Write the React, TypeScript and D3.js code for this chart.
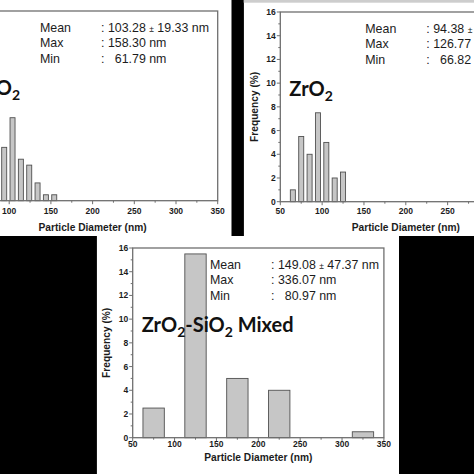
import React from 'react';
import * as d3 from 'd3';

// ---- data ----
const X_TICKS = [50, 100, 150, 200, 250, 300, 350];
const X_MINOR = [75, 125, 175, 225, 275, 325];
const Y_TICKS = [0, 2, 4, 6, 8, 10, 12, 14, 16];
const Y_MINOR = [1, 3, 5, 7, 9, 11, 13, 15];

// top-left panel (cropped) – particle size bins (nm) and frequency (%)
const TL_BINS = [94, 104, 114, 124, 134, 144, 154];
const TL_FREQ = [4.5, 7, 3.5, 3, 1.5, 0.5, 0.5];
// top-right panel: ZrO2
const TR_BINS = [65, 75, 85, 95, 105, 115, 125];
const TR_FREQ = [1, 5.5, 4, 7.5, 5, 2, 2.5];
// bottom panel: ZrO2-SiO2 Mixed
const MX_BINS = [75, 125, 175, 225, 275, 325];
const MX_FREQ = [2.5, 15.5, 5, 4, 0, 0.5];

const STAT_NAMES = ['Mean', 'Max', 'Min'];
const TL_STATS = ['103.28', '158.30', '61.79'];
const TL_SD = '19.33';
const TR_STATS = ['94.38', '126.77', '66.82'];
const TR_SD = '';
const MX_STATS = ['149.08', '336.07', '80.97'];
const MX_SD = '47.37';

const AX_FONT = '"Liberation Sans", Arial, sans-serif';
const TITLE_FONT = 'Lato, "Open Sans", sans-serif';
const FRAME = '#6f6f6f';
const BAR_FILL = '#c6c6c6';
const BAR_STROKE = '#505050';
const TXT = '#1c1c1c';

type PanelProps = {
  id: string;
  clip: { x: number; y: number; w: number; h: number };
  plot: { l: number; r: number; t: number; b: number };
  bins: number[];
  freq: number[];
  barUnits: number;
  stats: string[];
  sd: string;
  statX: number;
  title: { text: string; sub?: boolean }[];
  tickDy: number;
  xLabelY: number;
  yLabelGap: number;
};

function Panel(p: PanelProps) {
  const x = d3.scaleLinear().domain([50, 350]).range([p.plot.l, p.plot.r]);
  const y = d3.scaleLinear().domain([0, 16]).range([p.plot.b, p.plot.t]);
  const bw = x(50 + p.barUnits) - x(50);
  const statY0 = p.plot.t + 21;
  const rowH = 15.3;
  const colonX = p.statX + 61;
  return (
    <g clipPath={`url(#${p.id})`}>
      <defs>
        <clipPath id={p.id}>
          <rect x={p.clip.x} y={p.clip.y} width={p.clip.w} height={p.clip.h} />
        </clipPath>
      </defs>
      <rect x={p.clip.x} y={p.clip.y} width={p.clip.w} height={p.clip.h} fill="#fff" />
      {/* bars */}
      {p.bins.map((b, i) =>
        p.freq[i] > 0 ? (
          <rect
            key={i}
            x={x(b) - bw / 2}
            y={y(p.freq[i])}
            width={bw}
            height={y(0) - y(p.freq[i])}
            fill={BAR_FILL}
            stroke={BAR_STROKE}
            strokeWidth={0.9}
          />
        ) : null
      )}
      {/* frame */}
      <rect
        x={p.plot.l}
        y={p.plot.t}
        width={p.plot.r - p.plot.l}
        height={p.plot.b - p.plot.t}
        fill="none"
        stroke={FRAME}
        strokeWidth={1.3}
      />
      {/* x ticks */}
      {X_TICKS.map((t) => (
        <g key={'xt' + t}>
          <line x1={x(t)} x2={x(t)} y1={y(0)} y2={y(0) + 3.5} stroke={FRAME} strokeWidth={1} />
          <text
            x={x(t)}
            y={y(0) + p.tickDy}
            textAnchor="middle"
            fontFamily={AX_FONT}
            fontWeight="bold"
            fontSize={8.5}
            fill={TXT}
          >
            {t}
          </text>
        </g>
      ))}
      {X_MINOR.map((t) => (
        <line key={'xm' + t} x1={x(t)} x2={x(t)} y1={y(0)} y2={y(0) + 2} stroke={FRAME} strokeWidth={1} />
      ))}
      {/* y ticks */}
      {Y_TICKS.map((t) => (
        <g key={'yt' + t}>
          <line x1={x(50) - 3.5} x2={x(50)} y1={y(t)} y2={y(t)} stroke={FRAME} strokeWidth={1} />
          <text
            x={x(50) - 4.5}
            y={y(t) + 3}
            textAnchor="end"
            fontFamily={AX_FONT}
            fontWeight="bold"
            fontSize={8.5}
            fill={TXT}
          >
            {t}
          </text>
        </g>
      ))}
      {Y_MINOR.map((t) => (
        <line key={'ym' + t} x1={x(50) - 2} x2={x(50)} y1={y(t)} y2={y(t)} stroke={FRAME} strokeWidth={1} />
      ))}
      {/* axis titles */}
      <text
        x={(p.plot.l + p.plot.r) / 2}
        y={p.xLabelY}
        textAnchor="middle"
        fontFamily={AX_FONT}
        fontWeight="bold"
        fontSize={10.2}
        fill={TXT}
      >
        Particle Diameter (nm)
      </text>
      <text
        transform={`translate(${p.plot.l - p.yLabelGap},${(p.plot.t + p.plot.b) / 2}) rotate(-90)`}
        textAnchor="middle"
        fontFamily={AX_FONT}
        fontWeight="bold"
        fontSize={10.2}
        fill={TXT}
      >
        Frequency (%)
      </text>
      {/* statistics */}
      {STAT_NAMES.map((n, i) => (
        <g key={n} fontFamily={AX_FONT} fontSize={12.4} fill={TXT}>
          <text x={p.statX} y={statY0 + i * rowH}>
            {n}
          </text>
          <text x={colonX} y={statY0 + i * rowH} style={{ whiteSpace: 'pre' }}>
            {i === 0 ? (
              <>
                {`: ${p.stats[0]} `}
                <tspan fontSize={8.5}>±</tspan>
                {p.sd ? ` ${p.sd} nm` : ''}
              </>
            ) : i === 1 ? (
              `: ${p.stats[1]} nm`
            ) : (
              `:   ${p.stats[2]} nm`
            )}
          </text>
        </g>
      ))}
      {/* sample name */}
      <text
        x={p.plot.l + 9}
        y={p.plot.t + 84}
        fontFamily={TITLE_FONT}
        fontWeight="bold"
        fontSize={20}
        fill="#111"
      >
        {p.title.map((s, i) =>
          s.sub ? (
            <tspan key={i} fontSize={14} dy={5}>
              {s.text}
            </tspan>
          ) : (
            <tspan key={i} dy={i > 0 && p.title[i - 1].sub ? -5 : 0}>
              {s.text}
            </tspan>
          )
        )}
      </text>
    </g>
  );
}

export default function App() {
  return (
    <svg
      width={474}
      height={474}
      viewBox="0 0 474 474"
      style={{ position: 'absolute', left: 0, top: 0, display: 'block' }}
    >
      <rect x={0} y={0} width={474} height={474} fill="#000" />
      <Panel
        id="clipTL"
        clip={{ x: 0, y: 0, w: 231.7, h: 236 }}
        plot={{ l: -32.5, r: 217.7, t: 11, b: 200.7 }}
        bins={TL_BINS}
        freq={TL_FREQ}
        barUnits={6}
        stats={TL_STATS}
        sd={TL_SD}
        statX={40}
        title={[{ text: 'ZrO' }, { text: '2', sub: true }]}
        tickDy={13.3}
        xLabelY={230.5}
        yLabelGap={22}
      />
      <Panel
        id="clipTR"
        clip={{ x: 243.7, y: 0, w: 230.3, h: 236 }}
        plot={{ l: 280.3, r: 531.3, t: 12, b: 201.7 }}
        bins={TR_BINS}
        freq={TR_FREQ}
        barUnits={6}
        stats={TR_STATS}
        sd={TR_SD}
        statX={365.3}
        title={[{ text: 'ZrO' }, { text: '2', sub: true }]}
        tickDy={11.8}
        xLabelY={230.5}
        yLabelGap={22}
      />
      <rect x={243.7} y={0} width={230.3} height={2.7} fill="#cdcdcd" />
      <Panel
        id="clipMX"
        clip={{ x: 96.7, y: 236, w: 302.3, h: 238 }}
        plot={{ l: 132.7, r: 383.9, t: 248, b: 437.7 }}
        bins={MX_BINS}
        freq={MX_FREQ}
        barUnits={25.5}
        stats={MX_STATS}
        sd={MX_SD}
        statX={210}
        title={[
          { text: 'ZrO' },
          { text: '2', sub: true },
          { text: '-SiO' },
          { text: '2', sub: true },
          { text: ' Mixed' },
        ]}
        tickDy={9.5}
        xLabelY={461}
        yLabelGap={22.4}
      />
    </svg>
  );
}
